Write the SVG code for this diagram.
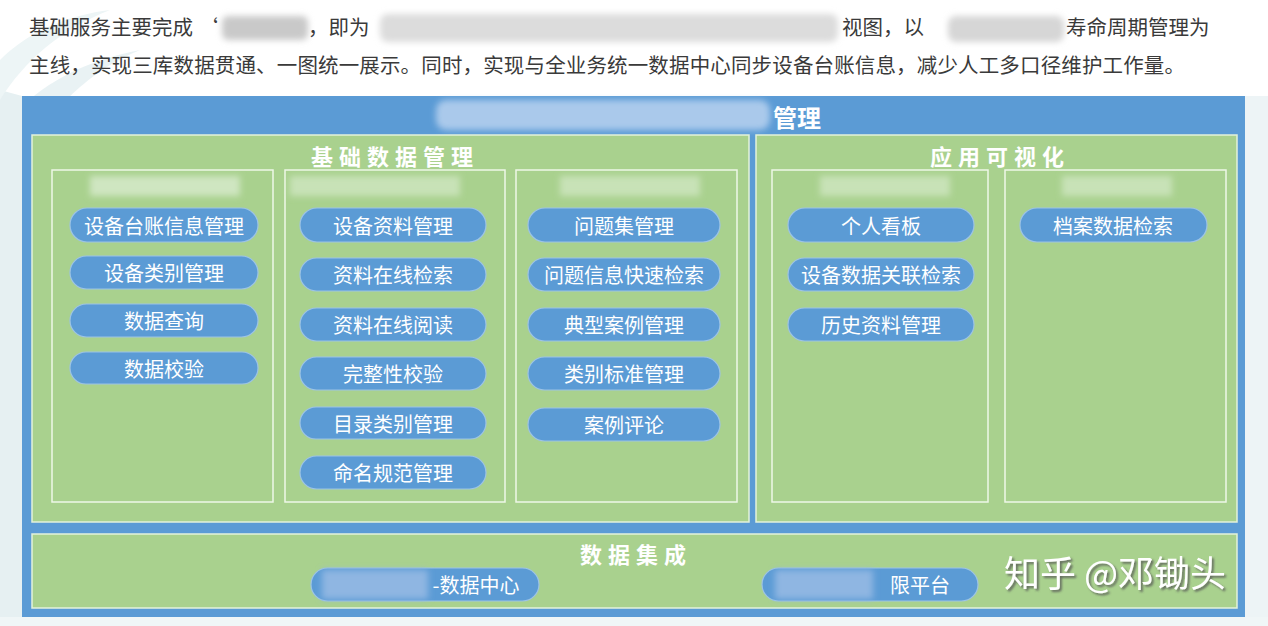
<svg xmlns="http://www.w3.org/2000/svg" width="1268" height="626" viewBox="0 0 1268 626">
<defs>
<style>
.para{font-family:"Noto Sans CJK SC","Noto Sans CJK TC",sans-serif;font-size:20.5px;fill:#3a3a3a;}
.panel{fill:#a9d18e;stroke:#e4f2da;stroke-width:1.5;}
.box{fill:none;stroke:#eef7e8;stroke-width:1.5;}
.pill{fill:#5b9bd5;stroke:#9cc3e6;stroke-width:1.2;}
.pt{font-family:"Noto Sans CJK SC","Noto Sans CJK TC",sans-serif;font-size:20px;fill:#ffffff;text-anchor:middle;dominant-baseline:central;}
.ttl{font-family:"Noto Sans CJK SC","Noto Sans CJK TC",sans-serif;font-size:22px;font-weight:bold;fill:#ffffff;text-anchor:middle;dominant-baseline:central;letter-spacing:6px;}
.blur{filter:url(#bl);}
</style>
<filter id="bl" x="-20%" y="-50%" width="140%" height="200%"><feGaussianBlur stdDeviation="3"/></filter>
<filter id="sh" x="-10%" y="-20%" width="120%" height="140%"><feDropShadow dx="2" dy="2" stdDeviation="1" flood-color="#555" flood-opacity="0.8"/></filter>
</defs>
<rect width="1268" height="626" fill="#ffffff"/>
<g id="background">
<path d="M0,130 C40,80 90,60 140,50 C90,70 50,110 20,160 Z" fill="#e3eff1" opacity="0.8"/>
<path d="M0,90 L22,96 L22,620 L0,620 Z" fill="#e6f0f2"/>
<path d="M0,60 C30,30 70,15 110,10 C60,30 25,60 0,100 Z" fill="#edf5f6"/>
<path d="M1245,96 L1268,96 L1268,626 L1245,626 Z" fill="#edf4f6"/>
<path d="M0,617 L1268,617 L1268,626 L0,626 Z" fill="#f0f6f7"/>
</g>
<g id="intro">
<text class="para" x="29" y="35">基础服务主要完成 ‘</text>
<rect class="blur" x="222" y="16" width="86" height="24" rx="6" fill="#c9c9c9"/>
<text class="para" x="308" y="35">，即为</text>
<rect class="blur" x="380" y="14" width="458" height="28" rx="8" fill="#dcdcdc"/>
<text class="para" x="842" y="35">视图，以</text>
<rect class="blur" x="948" y="16" width="116" height="26" rx="8" fill="#d6d6d6"/>
<text class="para" x="1066" y="35">寿命周期管理为</text>
<text class="para" x="29" y="73" textLength="1156" lengthAdjust="spacing">主线，实现三库数据贯通、一图统一展示。同时，实现与全业务统一数据中心同步设备台账信息，减少人工多口径维护工作量。</text>
</g>
<g id="frame">
<rect x="22" y="96" width="1223" height="521" fill="#5b9bd5"/>
<rect class="blur" x="436" y="100" width="334" height="30" rx="10" fill="#b3cfee" opacity="0.9"/>
<text x="797" y="116" font-family="Noto Sans CJK SC,sans-serif" font-size="24" font-weight="bold" fill="#ffffff" text-anchor="middle" dominant-baseline="central">管理</text>
</g>
<g id="basic-data">
<rect class="panel" x="32" y="135" width="717" height="387"/>
<text class="ttl" x="395" y="155">基础数据管理</text>
<rect class="box" x="52" y="170" width="221" height="332"/>
<rect class="box" x="285" y="170" width="220" height="332"/>
<rect class="box" x="516" y="170" width="221" height="332"/>
<rect class="blur" x="90" y="176" width="150" height="20" fill="#cfe6c1"/>
<rect class="blur" x="290" y="176" width="170" height="20" fill="#c8e2b7"/>
<rect class="blur" x="560" y="176" width="140" height="20" fill="#c8e2b7"/>
</g>
<g id="col1">
<rect class="pill" x="70" y="208" width="188" height="34" rx="17"/><text class="pt" x="164" y="225">设备台账信息管理</text>
<rect class="pill" x="70" y="256" width="188" height="33" rx="16.5"/><text class="pt" x="164" y="272">设备类别管理</text>
<rect class="pill" x="70" y="304" width="188" height="33" rx="16.5"/><text class="pt" x="164" y="320">数据查询</text>
<rect class="pill" x="70" y="352" width="188" height="32" rx="16"/><text class="pt" x="164" y="368">数据校验</text>
</g>
<g id="col2">
<rect class="pill" x="300" y="208" width="186" height="34" rx="17"/><text class="pt" x="393" y="225">设备资料管理</text>
<rect class="pill" x="300" y="258" width="186" height="33" rx="16.5"/><text class="pt" x="393" y="274">资料在线检索</text>
<rect class="pill" x="300" y="308" width="186" height="33" rx="16.5"/><text class="pt" x="393" y="324">资料在线阅读</text>
<rect class="pill" x="300" y="357" width="186" height="33" rx="16.5"/><text class="pt" x="393" y="373">完整性校验</text>
<rect class="pill" x="300" y="407" width="186" height="32" rx="16"/><text class="pt" x="393" y="423">目录类别管理</text>
<rect class="pill" x="300" y="456" width="186" height="33" rx="16.5"/><text class="pt" x="393" y="472">命名规范管理</text>
</g>
<g id="col3">
<rect class="pill" x="528" y="208" width="192" height="34" rx="17"/><text class="pt" x="624" y="225">问题集管理</text>
<rect class="pill" x="528" y="258" width="192" height="33" rx="16.5"/><text class="pt" x="624" y="274">问题信息快速检索</text>
<rect class="pill" x="528" y="308" width="192" height="33" rx="16.5"/><text class="pt" x="624" y="324">典型案例管理</text>
<rect class="pill" x="528" y="357" width="192" height="33" rx="16.5"/><text class="pt" x="624" y="373">类别标准管理</text>
<rect class="pill" x="528" y="408" width="192" height="33" rx="16.5"/><text class="pt" x="624" y="424">案例评论</text>
</g>
<g id="visualization">
<rect class="panel" x="756" y="135" width="481" height="387"/>
<text class="ttl" x="1000" y="155">应用可视化</text>
<rect class="box" x="772" y="170" width="216" height="332"/>
<rect class="box" x="1005" y="170" width="221" height="332"/>
<rect class="blur" x="820" y="176" width="130" height="20" fill="#c8e2b7"/>
<rect class="blur" x="1062" y="176" width="110" height="20" fill="#c8e2b7"/>
</g>
<g id="col4">
<rect class="pill" x="788" y="208" width="186" height="34" rx="17"/><text class="pt" x="881" y="225">个人看板</text>
<rect class="pill" x="788" y="258" width="186" height="33" rx="16.5"/><text class="pt" x="881" y="274">设备数据关联检索</text>
<rect class="pill" x="788" y="308" width="186" height="33" rx="16.5"/><text class="pt" x="881" y="324">历史资料管理</text>
</g>
<g id="col5">
<rect class="pill" x="1020" y="208" width="187" height="34" rx="17"/><text class="pt" x="1113" y="225">档案数据检索</text>
</g>
<g id="integration">
<rect class="panel" x="32" y="534" width="1205" height="74"/>
<text class="ttl" x="636" y="553" font-size="21">数据集成</text>
<rect class="pill" x="311" y="568" width="228" height="33" rx="16.5"/>
<rect class="blur" x="322" y="570" width="106" height="29" fill="#8fb6e2"/>
<text class="pt" x="476" y="584">-数据中心</text>
<rect class="pill" x="762" y="568" width="216" height="33" rx="16.5"/>
<rect class="blur" x="775" y="570" width="98" height="29" fill="#8fb6e2"/>
<text class="pt" x="920" y="584">限平台</text>
</g>
<g id="watermark">
<text x="1115" y="571" font-family="Noto Sans CJK SC,sans-serif" font-size="36" fill="#ffffff" text-anchor="middle" dominant-baseline="central" filter="url(#sh)">知乎 @邓锄头</text>
</g>
</svg>
